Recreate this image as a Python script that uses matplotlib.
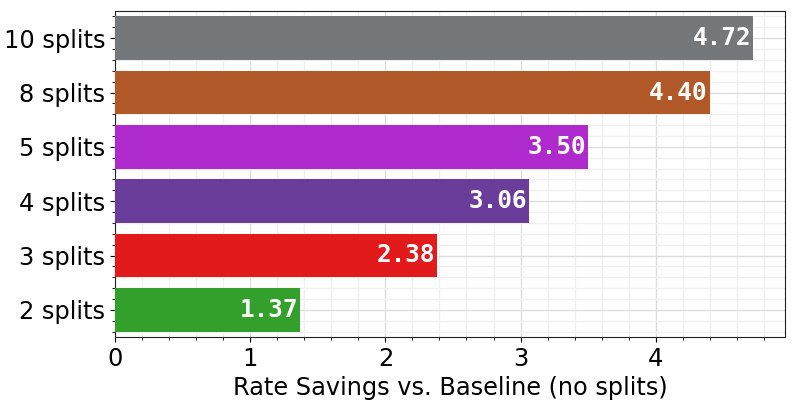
import numpy as np
import matplotlib.pyplot as plt
from matplotlib.ticker import MultipleLocator

labels = ['2 splits', '3 splits', '4 splits', '5 splits', '8 splits', '10 splits']
savings = [1.37, 2.38, 3.06, 3.50, 4.40, 4.72]
colors = ['#33a02c', '#e31a1c', '#6a3d9a', '#ae2acc', '#b15928', '#75787b']

fig, ax = plt.subplots(figsize=(7.95, 4.03), dpi=100)
fig.subplots_adjust(left=115/795, right=785/795, top=1-11/403, bottom=1-337/403)

ypos = np.arange(len(labels))
ax.barh(ypos, savings, height=0.8, color=colors, zorder=3)

## value labels inside the bar ends
for y, v in zip(ypos, savings):
    ax.text(v - 0.015, y, '%.2f' % v, ha='right', va='center', color='white',
            fontsize=17.6, fontweight='bold', family='DejaVu Sans Mono', zorder=4)

ax.set_yticks(ypos)
ax.set_yticklabels(labels)
ax.set_ylim(-0.5, 5.5)
ax.set_xlim(0, max(savings) * 1.05)
ax.xaxis.set_major_locator(MultipleLocator(1))
ax.xaxis.set_minor_locator(MultipleLocator(0.2))
ax.yaxis.set_minor_locator(MultipleLocator(0.2))
ax.grid(which='major', color='#dddddd', linewidth=1, zorder=0)
ax.grid(which='minor', color='#f0f0f0', linewidth=1, zorder=0)
ax.set_axisbelow(True)
ax.tick_params(labelsize=17.4)
ax.set_xlabel('Rate Savings vs. Baseline (no splits)', fontsize=17.25)
for s in ax.spines.values():
    s.set_color('#222222')

plt.savefig('out.png')
